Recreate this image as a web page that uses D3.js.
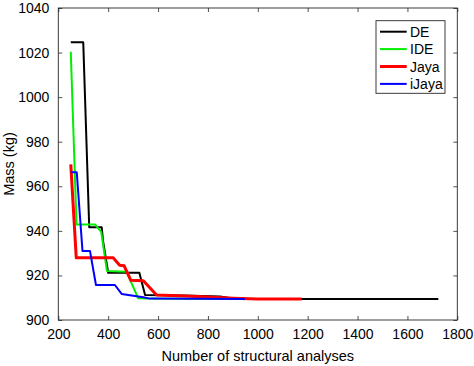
<!DOCTYPE html>
<html>
<head>
<meta charset="utf-8">
<script src="https://cdn.jsdelivr.net/npm/d3@7"></script>
<style>
  body { margin: 0; background: #fff; }
  svg { display: block; font-family: "Liberation Sans", Arial, sans-serif; }
</style>
</head>
<body>
<div id="canvas"></div>
<script>
// ---------------- DATA ----------------
var series_names = ["DE", "IDE", "Jaya", "iJaya"];

var de_points = [
  [250, 1024.6], [300, 1024.6], [324, 941.6], [374, 941.6], [380, 935], [400, 921.2],
  [525, 921.2], [548, 911.2], [700, 911.0], [848, 910.5], [895, 909.8], [910, 909.4], [1724, 909.4]
];
var ide_points = [
  [250, 1020.4], [273, 942.8], [348, 942.8], [372, 939.5], [395, 922.0], [474, 921.6],
  [520, 909.8], [560, 909.6], [900, 909.4]
];
var jaya_points = [
  [250, 969.8], [272, 927.9], [420, 927.9], [446, 924.6], [464, 924.3], [491, 917.8],
  [541, 917.6], [594, 911.2], [650, 911.0], [760, 910.5], [900, 909.8], [1000, 909.4], [1176, 909.4]
];
var ijaya_points = [
  [250, 966.3], [274, 966.3], [297, 931.0], [327, 931.0], [351, 915.7], [427, 915.7],
  [454, 911.7], [541, 910.2], [567, 909.6], [948, 909.4]
];

var x_ticks = [200, 400, 600, 800, 1000, 1200, 1400, 1600, 1800];
var y_ticks = [900, 920, 940, 960, 980, 1000, 1020, 1040];

// ---------------- STRUCTURE ----------------
var W = 474, H = 366;
var m = { left: 58.3, right: 16.7, top: 8, bottom: 46 };
var width = W - m.left - m.right;
var height = H - m.top - m.bottom;
var axis_color = "#262626";

var svg = d3.select("#canvas").append("svg")
  .attr("width", W)
  .attr("height", H);

var g = svg.append("g")
  .attr("transform", `translate(${m.left}, ${m.top})`);

// scales
var xScale = d3.scaleLinear().domain([200, 1800]).range([0, width]);
var yScale = d3.scaleLinear().domain([900, 1040]).range([height, 0]);

// white plot area
g.append("rect")
  .attr("width", width)
  .attr("height", height)
  .attr("fill", "#fff");

// ---------------- LINES ----------------
var line = d3.line()
  .x((d) => xScale(d[0]))
  .y((d) => yScale(d[1]));

var series = [
  { name: series_names[0], pts: de_points, color: "#000000", w: 2 },
  { name: series_names[1], pts: ide_points, color: "#00ee00", w: 2 },
  { name: series_names[2], pts: jaya_points, color: "#ff0000", w: 3 },
  { name: series_names[3], pts: ijaya_points, color: "#0000ff", w: 2 }
];

g.selectAll(".series")
  .data(series)
  .enter()
  .append("path")
  .attr("class", "series")
  .attr("d", (s) => line(s.pts))
  .attr("fill", "none")
  .attr("stroke", (s) => s.color)
  .attr("stroke-width", (s) => s.w)
  .attr("stroke-linejoin", "round");

// ---------------- AXES ----------------
function styleAxis(sel) {
  sel.select(".domain").remove();
  sel.selectAll(".tick line").attr("stroke", axis_color).attr("stroke-width", 0.8);
  sel.selectAll(".tick text")
    .attr("fill", "#000")
    .style("font-size", "14px");
}

// bottom
g.append("g")
  .attr("transform", `translate(0, ${height})`)
  .call(d3.axisBottom(xScale).tickValues(x_ticks).tickSize(-4).tickPadding(9).tickFormat(d3.format("d")))
  .call(styleAxis);
// top
g.append("g")
  .call(d3.axisTop(xScale).tickValues(x_ticks).tickSize(-4).tickFormat(""))
  .call(styleAxis);
// left
g.append("g")
  .call(d3.axisLeft(yScale).tickValues(y_ticks).tickSize(-4).tickPadding(9).tickFormat(d3.format("d")))
  .call(styleAxis);
// right
g.append("g")
  .attr("transform", `translate(${width}, 0)`)
  .call(d3.axisRight(yScale).tickValues(y_ticks).tickSize(-4).tickFormat(""))
  .call(styleAxis);

// box
g.append("rect")
  .attr("width", width)
  .attr("height", height)
  .attr("fill", "none")
  .attr("stroke", axis_color)
  .attr("stroke-width", 0.9);

// axis labels
svg.append("text")
  .attr("x", m.left + width / 2)
  .attr("y", 361)
  .attr("text-anchor", "middle")
  .style("font-size", "14.5px")
  .attr("fill", "#000")
  .text("Number of structural analyses");

svg.append("text")
  .attr("transform", `translate(14, ${m.top + height / 2}) rotate(-90)`)
  .attr("text-anchor", "middle")
  .style("font-size", "14.5px")
  .attr("fill", "#000")
  .text("Mass (kg)");

// ---------------- LEGEND ----------------
var lg = svg.append("g").attr("transform", "translate(376, 20.7)");
lg.append("rect")
  .attr("width", 69)
  .attr("height", 72.6)
  .attr("fill", "#fff")
  .attr("stroke", axis_color)
  .attr("stroke-width", 0.9);

var items = lg.selectAll(".item")
  .data(series)
  .enter()
  .append("g")
  .attr("class", "item")
  .attr("transform", (s, i) => `translate(0, ${11 + i * 17.4})`);

items.append("line")
  .attr("x1", 4).attr("x2", 30.7)
  .attr("stroke", (s) => s.color)
  .attr("stroke-width", (s) => s.w);

items.append("text")
  .attr("x", 34)
  .attr("dy", "0.36em")
  .style("font-size", "14px")
  .attr("fill", "#000")
  .text((s) => s.name);
</script>
</body>
</html>
